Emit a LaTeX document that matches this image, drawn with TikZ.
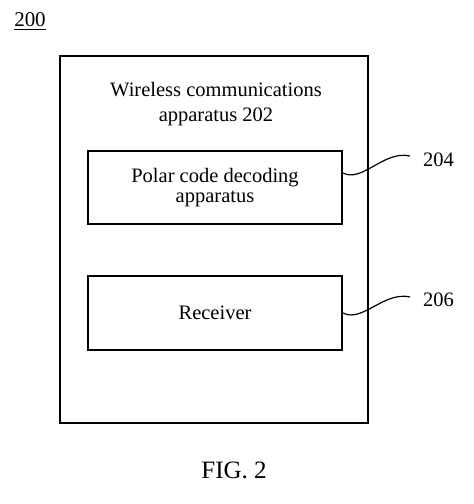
\documentclass[tikz,border=0pt]{standalone}
\usepackage{fontspec}
\setmainfont{Liberation Serif}
\begin{document}
\begin{tikzpicture}[x=1pt,y=-1pt,
  frame/.style={draw=black,line width=2.2pt,rectangle,inner sep=0pt},
  boxtext/.style={font=\fontsize{20.5}{20}\selectfont,align=center,inner sep=0pt},
  lbl/.style={font=\fontsize{20.5}{24}\selectfont,inner sep=0pt,anchor=west},
  lead/.style={draw=black,line width=1.2pt}]
\useasboundingbox (0,0) rectangle (474,504);
\node[frame,minimum width=308pt,minimum height=367pt] (outer) at (214,239.5) {};
\node[font=\fontsize{20.5}{25}\selectfont,align=center,inner sep=0pt] (title) at (216,104) {Wireless communications\\apparatus 202};
\node[frame,minimum width=254pt,minimum height=73pt] (dec) at (215,187.5) {};
\node[boxtext] (dectext) at (dec.center) {Polar code decoding\\apparatus};
\node[frame,minimum width=254pt,minimum height=74pt] (rcv) at (215,313) {};
\node[boxtext] (rcvtext) at (rcv.center) {Receiver};
\node[lbl] (l204) at (423,160) {204};
\node[lbl] (l206) at (423,300) {206};
\coordinate (e204) at (410,156);
\coordinate (e206) at (410,297);
\draw[lead] (dec.east |- 0,173) .. controls (362,183) and (384,150) .. (e204);
\draw[lead] (rcv.east |- 0,313) .. controls (362,323) and (384,291) .. (e206);
\node[font=\fontsize{21}{24}\selectfont,inner sep=0pt] (n200) at (30,20) {200};
\draw[line width=1pt] ([yshift=-2.5pt]n200.south west) -- ([yshift=-2.5pt]n200.south east);
\node[font=\fontsize{25}{28}\selectfont,inner sep=0pt] (fig) at (234,470) {FIG. 2};
\end{tikzpicture}
\end{document}
